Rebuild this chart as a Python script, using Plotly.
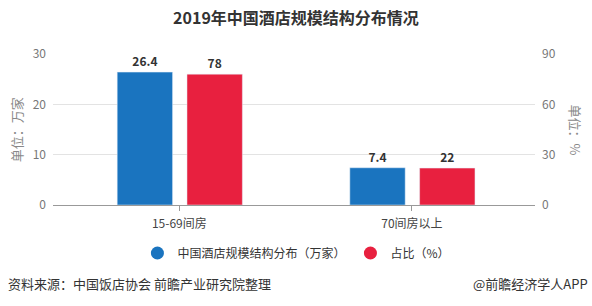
import plotly.graph_objects as go

categories = ["15-69间房", "70间房以上"]
hotels_wan = [26.4, 7.4]
share_pct = [78, 22]
series_names = ["中国酒店规模结构分布（万家）", "占比（%）"]
left_ticks = [0, 10, 20, 30]
right_ticks = [0, 30, 60, 90]

BLUE = "#1a74bf"
RED = "#e8203f"
FONT = "Noto Sans CJK SC, Noto Sans, sans-serif"

fig = go.Figure()
fig.add_trace(go.Bar(
    x=categories, y=hotels_wan, name=series_names[0], marker_color=BLUE,
    width=0.238, offset=-0.267, yaxis="y", showlegend=False,
    text=[f"{v}" for v in hotels_wan], textposition="outside",
    textfont=dict(size=12, color="#333", family=FONT, weight="bold"),
    cliponaxis=False,
))
fig.add_trace(go.Bar(
    x=categories, y=share_pct, name=series_names[1], marker_color=RED,
    width=0.238, offset=0.033, yaxis="y2", showlegend=False,
    text=[f"{v}" for v in share_pct], textposition="outside",
    textfont=dict(size=12, color="#333", family=FONT, weight="bold"),
    cliponaxis=False,
))
# legend entries with round markers
for name, col in zip(series_names, [BLUE, RED]):
    fig.add_trace(go.Scatter(x=[None], y=[None], mode="markers", name=name,
                             marker=dict(symbol="circle", size=13, color=col)))

fig.update_layout(
    width=592, height=306,
    margin=dict(l=53, r=57, t=54, b=101),
    paper_bgcolor="white", plot_bgcolor="white",
    font=dict(family=FONT, color="#555"),
    title=dict(text="<b>2019年中国酒店规模结构分布情况</b>", x=0.5, xanchor="center",
               y=0.941, yanchor="middle", font=dict(size=16, color="#333", family=FONT)),
    xaxis=dict(range=[-0.543, 1.529], showgrid=False, showline=True, linecolor="#999",
               linewidth=1, ticks="outside", ticklen=5, tickcolor="#999",
               tickfont=dict(size=12, color="#444"), ticklabelstandoff=3),
    yaxis=dict(range=[0, 30], tickvals=left_ticks, showgrid=True, gridcolor="#e3e3e3",
               zeroline=False, ticks="", tickfont=dict(size=12, color="#777"),
               ticklabelstandoff=6),
    yaxis2=dict(range=[0, 90], tickvals=right_ticks, overlaying="y", side="right",
                showgrid=False, zeroline=False, tickfont=dict(size=12, color="#777"),
                ticklabelstandoff=6),
    barmode="overlay",
    legend=dict(orientation="h", x=0.505, xanchor="center", y=-0.318, yanchor="middle",
                font=dict(size=12, color="#333"), itemwidth=30),
    showlegend=True,
)

fig.add_annotation(text="单位：万家", textangle=-90, xref="paper", yref="paper",
                   x=-0.075, y=0.5, xanchor="center", yanchor="middle", showarrow=False,
                   font=dict(size=13, color="#888"))
fig.add_annotation(text="单位：%", textangle=90, xref="paper", yref="paper",
                   x=1.083, y=0.5, xanchor="center", yanchor="middle", showarrow=False,
                   font=dict(size=13, color="#888"))
fig.add_annotation(text="资料来源：中国饭店协会 前瞻产业研究院整理", xref="paper", yref="paper",
                   x=-0.097, y=-0.52, xanchor="left", yanchor="middle", showarrow=False,
                   font=dict(size=13, color="#333"))
fig.add_annotation(text="@前瞻经济学人APP", xref="paper", yref="paper",
                   x=1.115, y=-0.52, xanchor="right", yanchor="middle", showarrow=False,
                   font=dict(size=13, color="#333"))

fig.write_html("out.html")
